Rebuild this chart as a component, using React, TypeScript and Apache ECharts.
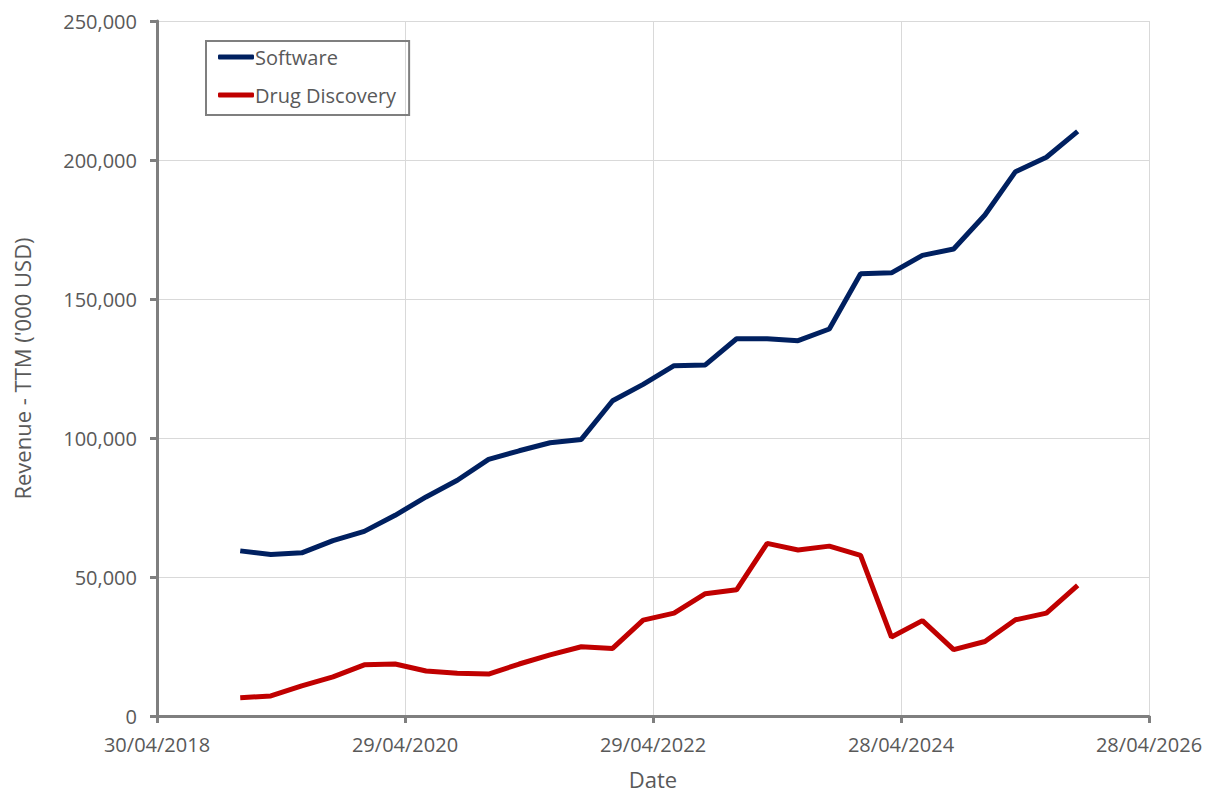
import React, { useEffect, useRef } from 'react';
import * as echarts from 'echarts';

// quarter-end dates (dd/mm/yyyy)
const dates = [
  '31/12/2018', '31/03/2019', '30/06/2019', '30/09/2019',
  '31/12/2019', '31/03/2020', '30/06/2020', '30/09/2020',
  '31/12/2020', '31/03/2021', '30/06/2021', '30/09/2021',
  '31/12/2021', '31/03/2022', '30/06/2022', '30/09/2022',
  '31/12/2022', '31/03/2023', '30/06/2023', '30/09/2023',
  '31/12/2023', '31/03/2024', '30/06/2024', '30/09/2024',
  '31/12/2024', '31/03/2025', '30/06/2025', '30/09/2025'
];

// revenue TTM, '000 USD
const software = [
  59400, 58100, 58700, 63100, 66400, 72200, 78800, 84800,
  92300, 95400, 98300, 99500, 113400, 119300, 126000, 126300,
  135700, 135700, 135000, 139200, 159100, 159400, 165700, 168000,
  180200, 195800, 201000, 210300
];

const drugDiscovery = [
  6600, 7200, 10800, 14100, 18400, 18700, 16200, 15400,
  15100, 18700, 22000, 24900, 24300, 34500, 37000, 44000,
  45400, 62100, 59700, 61100, 57800, 28400, 34300, 23900,
  26800, 34600, 37000, 47000
];

// x axis runs in days from this origin, major unit 730 days
const axisStart = Date.UTC(2018, 3, 30);
const DAY = 86400000;

const toDays = (s: string) => {
  const [d, m, y] = s.split('/').map(Number);
  return Math.round((Date.UTC(y, m - 1, d) - axisStart) / DAY);
};

const fmtDate = (days: number) => {
  const dt = new Date(axisStart + days * DAY);
  const dd = String(dt.getUTCDate()).padStart(2, '0');
  const mm = String(dt.getUTCMonth() + 1).padStart(2, '0');
  return `${dd}/${mm}/${dt.getUTCFullYear()}`;
};

const FONT = '"Open Sans", "Liberation Sans", sans-serif';
const TEXT = '#595959';
const AXIS = '#7f7f7f';

const App: React.FC = () => {
  const chartRef = useRef<HTMLDivElement>(null);

  useEffect(() => {
    if (!chartRef.current) return;
    const chart = echarts.init(chartRef.current, undefined, { renderer: 'svg' });
    const xs = dates.map(toDays);

    chart.setOption({
      animation: false,
      backgroundColor: '#ffffff',
      textStyle: { fontFamily: FONT },
      grid: { left: 157, top: 21, right: 72, bottom: 82, containLabel: false },
      legend: {
        orient: 'vertical',
        left: 206,
        top: 41,
        padding: [4, 13, 8, 12],
        itemGap: 14,
        itemWidth: 36,
        itemHeight: 5,
        icon: 'roundRect',
        borderColor: AXIS,
        borderWidth: 2,
        textStyle: { color: TEXT, fontSize: 20, fontFamily: FONT, lineHeight: 24, padding: [0, 0, 0, -4] },
        data: ['Software', 'Drug Discovery']
      },
      xAxis: {
        type: 'value',
        min: 0,
        max: 2920,
        interval: 730,
        name: 'Date',
        nameLocation: 'middle',
        nameGap: 52,
        nameTextStyle: { color: TEXT, fontSize: 22, fontFamily: FONT },
        axisLine: { show: true, lineStyle: { color: AXIS, width: 3 } },
        axisTick: { show: true, length: 7, lineStyle: { color: AXIS, width: 3 } },
        axisLabel: { color: TEXT, fontSize: 20, margin: 18, formatter: (v: number) => fmtDate(v) },
        splitLine: { show: true, lineStyle: { color: '#d9d9d9', width: 1 } }
      },
      yAxis: {
        type: 'value',
        min: 0,
        max: 250000,
        interval: 50000,
        name: "Revenue - TTM ('000 USD)",
        nameLocation: 'middle',
        nameGap: 124,
        nameTextStyle: { color: TEXT, fontSize: 22, fontFamily: FONT },
        axisLine: { show: true, lineStyle: { color: AXIS, width: 3 } },
        axisTick: { show: true, length: 7, lineStyle: { color: AXIS, width: 3 } },
        axisLabel: {
          color: TEXT,
          fontSize: 20,
          margin: 20,
          formatter: (v: number) => v.toLocaleString('en-US')
        },
        splitLine: { show: true, lineStyle: { color: '#d9d9d9', width: 1 } }
      },
      series: [
        {
          name: 'Software',
          type: 'line',
          symbol: 'none',
          lineStyle: { color: '#002060', width: 5 },
          itemStyle: { color: '#002060' },
          data: xs.map((x, i) => [x, software[i]])
        },
        {
          name: 'Drug Discovery',
          type: 'line',
          symbol: 'none',
          lineStyle: { color: '#c00000', width: 5 },
          itemStyle: { color: '#c00000' },
          data: xs.map((x, i) => [x, drugDiscovery[i]])
        }
      ]
    });

    return () => {
      chart.dispose();
    };
  }, []);

  return (
    <div
      ref={chartRef}
      style={{ position: 'absolute', left: 0, top: 0, width: '1221px', height: '798px' }}
    />
  );
};

export default App;
